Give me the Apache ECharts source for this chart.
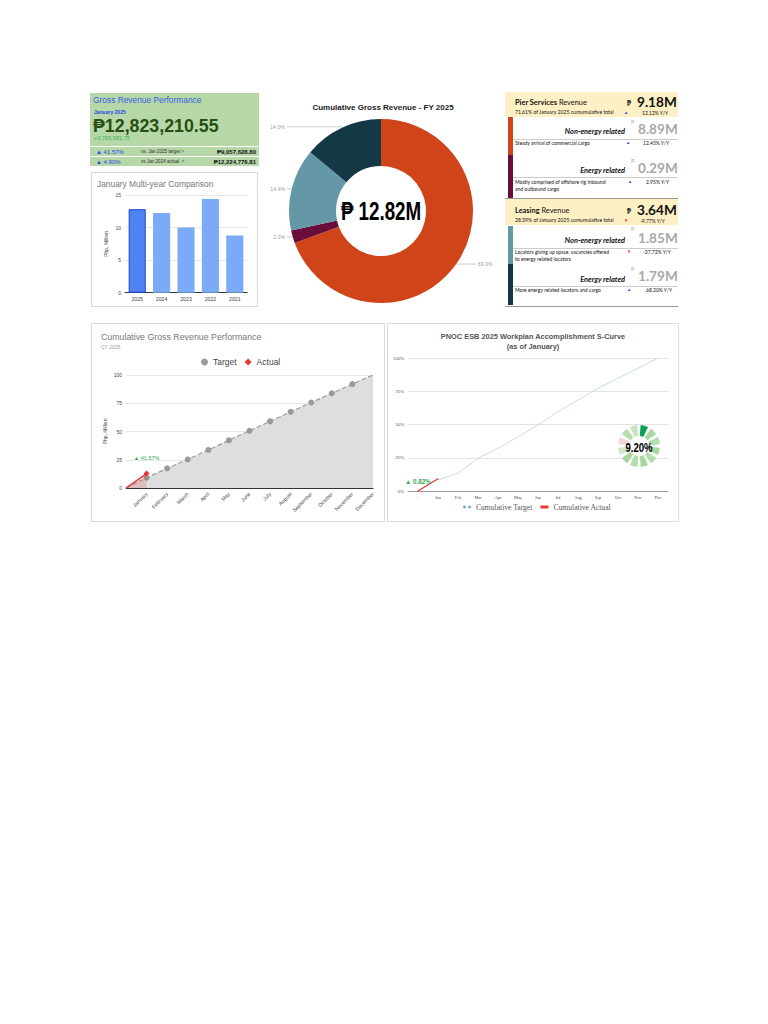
<!DOCTYPE html>
<html>
<head>
<meta charset="utf-8">
<script src="https://cdn.jsdelivr.net/npm/echarts@6/dist/echarts.min.js"></script>
<style>
html,body{margin:0;padding:0;background:#fff;width:768px;height:1024px;overflow:hidden;}
.b{position:absolute;}
.t{position:absolute;white-space:nowrap;line-height:1;transform:translateY(-50%);font-family:"Liberation Sans",Arial,sans-serif;color:#111;}
.r{transform:translate(-100%,-50%);}
.l{font-family:Lato,"Noto Sans",sans-serif;}
#c{position:absolute;left:0;top:0;width:768px;height:1024px;z-index:2;}
</style>
</head>
<body>
<!-- panel boxes -->
<div class="b" style="left:90px;top:93px;width:169px;height:53px;background:#b6d7a8"></div>
<div class="b" style="left:90px;top:147px;width:169px;height:9px;background:#b6d7a8"></div>
<div class="b" style="left:90px;top:157px;width:169px;height:9px;background:#b6d7a8"></div>
<div class="b" style="left:91px;top:172px;width:165px;height:133px;border:1px solid #d9d9d9"></div>
<div class="b" style="left:91px;top:323px;width:292px;height:197px;border:1px solid #dcdcdc"></div>
<div class="b" style="left:387px;top:323px;width:290px;height:197px;border:1px solid #dcdcdc"></div>

<!-- Gross revenue performance card -->
<div class="t" style="left:93px;top:100px;font-size:8.4px;color:#3a5ee0">Gross Revenue Performance</div>
<div class="t" style="left:94px;top:112px;font-size:5px;font-weight:bold;color:#2a45e6">January 2025</div>
<div class="t" style="left:93px;top:127px;font-size:17.8px;font-weight:bold;color:#274e13">₱12,823,210.55</div>
<div class="t" style="left:94px;top:139px;font-size:5.6px;color:#3fae55">+3,765,581.75</div>
<div class="t" style="left:96px;top:152px;font-size:6px;color:#2a45e6">▲ 41.57%</div>
<div class="t" style="left:141px;top:152px;font-size:4.6px;color:#333">vs. Jan 2025 target &gt;</div>
<div class="t r" style="left:256px;top:152px;font-size:6px;font-weight:bold;color:#111">₱9,057,628.80</div>
<div class="t" style="left:96px;top:161.5px;font-size:6px;color:#2a45e6">▲ 4.90%</div>
<div class="t" style="left:141px;top:161.5px;font-size:4.6px;color:#333">vs Jan 2024 actual &nbsp;&gt;</div>
<div class="t r" style="left:256px;top:161.5px;font-size:6px;font-weight:bold;color:#111">₱12,224,776.81</div>

<!-- Pier services card -->
<div class="b" style="left:505px;top:92px;width:173px;height:25px;background:#fdf0c4"></div>
<div class="t l" style="left:515px;top:103px;font-size:7.4px"><b>Pier Services</b> Revenue</div>
<div class="t l" style="left:627px;top:103px;font-size:7px;font-weight:bold">₱</div>
<div class="t l" style="left:637px;top:103px;font-size:13.6px;font-weight:bold">9.18M</div>
<div class="t l" style="left:515px;top:113px;font-size:5.1px">71.61% of January 2025 cumumulative total</div>
<div class="t" style="left:624px;top:113px;font-size:4.2px;color:#2b3cf0">▲</div>
<div class="t l" style="left:642px;top:113px;font-size:5px">12.12% Y/Y</div>
<div class="b" style="left:508px;top:117px;width:5px;height:38px;background:#cf4419"></div>
<div class="b" style="left:508px;top:155px;width:5px;height:43px;background:#6b0d3a"></div>
<div class="t l r" style="left:625px;top:132px;font-size:7.4px;font-weight:bold;font-style:italic">Non-energy related</div>
<div class="t l" style="left:631px;top:123px;font-size:5.5px;color:#aaa">P</div>
<div class="t l" style="left:638px;top:130px;font-size:13.6px;font-weight:bold;color:#a9a9a9">8.89M</div>
<div class="b" style="left:513px;top:139px;width:165px;height:1px;background:#ccc"></div>
<div class="t l" style="left:515px;top:143px;font-size:5px">Steady arrival of commercial cargo</div>
<div class="t" style="left:626px;top:143px;font-size:4.2px;color:#2b3cf0">▲</div>
<div class="t l" style="left:643px;top:143px;font-size:5px">12.45% Y/Y</div>
<div class="t l r" style="left:625px;top:171px;font-size:7.4px;font-weight:bold;font-style:italic">Energy related</div>
<div class="t l" style="left:631px;top:162px;font-size:5.5px;color:#aaa">P</div>
<div class="t l" style="left:638px;top:169px;font-size:13.6px;font-weight:bold;color:#a9a9a9">0.29M</div>
<div class="b" style="left:513px;top:177px;width:165px;height:1px;background:#ccc"></div>
<div class="t l" style="left:515px;top:182px;font-size:5px">Mostly comprised of offshore rig inbound</div>
<div class="t l" style="left:515px;top:189px;font-size:5px">and outbound cargo</div>
<div class="t" style="left:628px;top:182px;font-size:4.2px;color:#2b3cf0">▲</div>
<div class="t l" style="left:646px;top:182px;font-size:5px">2.95% Y/Y</div>
<div class="b" style="left:505px;top:198px;width:173px;height:1px;background:#999"></div>

<!-- Leasing card -->
<div class="b" style="left:505px;top:199px;width:173px;height:26px;background:#fdf0c4"></div>
<div class="t l" style="left:515px;top:211px;font-size:7.4px"><b>Leasing</b> Revenue</div>
<div class="t l" style="left:627px;top:211px;font-size:7px;font-weight:bold">₱</div>
<div class="t l" style="left:637px;top:211px;font-size:13.6px;font-weight:bold">3.64M</div>
<div class="t l" style="left:515px;top:221px;font-size:5.1px">28.39% of January 2025 cumumulative total</div>
<div class="t" style="left:624px;top:221px;font-size:4.2px;color:#e0201a">▼</div>
<div class="t l" style="left:640px;top:221px;font-size:5px">-9.77% Y/Y</div>
<div class="b" style="left:508px;top:226px;width:5px;height:38px;background:#6598a6"></div>
<div class="b" style="left:508px;top:264px;width:5px;height:41px;background:#153847"></div>
<div class="t l r" style="left:625px;top:241px;font-size:7.4px;font-weight:bold;font-style:italic">Non-energy related</div>
<div class="t l" style="left:631px;top:230px;font-size:5.5px;color:#aaa">P</div>
<div class="t l" style="left:638px;top:239px;font-size:13.6px;font-weight:bold;color:#a9a9a9">1.85M</div>
<div class="b" style="left:513px;top:248px;width:165px;height:1px;background:#ccc"></div>
<div class="t l" style="left:515px;top:252px;font-size:5px">Locators giving up space, vacancies offered</div>
<div class="t l" style="left:515px;top:259px;font-size:5px">to energy related locators</div>
<div class="t" style="left:627px;top:252px;font-size:4.2px;color:#e0201a">▼</div>
<div class="t l" style="left:643px;top:252px;font-size:5px">-37.73% Y/Y</div>
<div class="t l r" style="left:625px;top:280px;font-size:7.4px;font-weight:bold;font-style:italic">Energy related</div>
<div class="t l" style="left:631px;top:270px;font-size:5.5px;color:#aaa">P</div>
<div class="t l" style="left:638px;top:277px;font-size:13.6px;font-weight:bold;color:#a9a9a9">1.79M</div>
<div class="b" style="left:513px;top:286px;width:165px;height:1px;background:#ccc"></div>
<div class="t l" style="left:515px;top:290px;font-size:5px">More energy related locators and cargo</div>
<div class="t" style="left:627px;top:290px;font-size:4.2px;color:#2b3cf0">▲</div>
<div class="t l" style="left:646px;top:290px;font-size:5px">68.20% Y/Y</div>
<div class="b" style="left:505px;top:306px;width:173px;height:1px;background:#999"></div>

<div id="c"></div>
<script>
// ---- data ----
const years = ['2025', '2024', '2023', '2022', '2021'];
const yearValues = [12.82, 12.22, 10.0, 14.4, 8.8];

const revenueSegments = ['Pier Services - Non-energy', 'Pier Services - Energy', 'Leasing - Non-energy', 'Leasing - Energy'];
const revenueValues = [8.89, 0.29, 1.85, 1.79];
const revenueColors = ['#cf4419', '#6b0d3a', '#6598a6', '#153847'];

const months = ['', 'January', 'February', 'March', 'April', 'May', 'June', 'July', 'August', 'September', 'October', 'November', 'December'];
const targetCum = [0, 9.06, 17.4, 25.3, 33.7, 42.2, 50.6, 59.0, 67.4, 75.6, 83.8, 92.0, 100];
const actualCum = [0, 12.82];

const sMonths = ['-', 'Jan', 'Feb', 'Mar', 'Apr', 'May', 'Jun', 'Jul', 'Aug', 'Sep', 'Oct', 'Nov', 'Dec'];
const sTarget = [null, 8.38, 13.3, 24.6, 32.0, 40.8, 49.6, 59.6, 68.4, 77.2, 84.7, 92.2, 100];
const sActual = [0, 9.20];

const gaugeSegments = [1, 1, 1, 1, 1, 1, 1, 1, 1, 1, 1, 1];
const gaugeColors = ['#0f9d58', '#a8d8a0', '#b3ddab', '#a8d8a0', '#b3ddab', '#a8d8a0', '#b3ddab', '#a8d8a0', '#cfe8c9', '#f3d9d9', '#b3ddab', '#c6e5bf'];

// ---- chart ----
const chart = echarts.init(document.getElementById('c'), null, {renderer: 'svg', width: 768, height: 1024});

function txt(x, y, text, s, extra) {
  return Object.assign({type: 'text', x: x, y: y, silent: true, z: 100,
    style: Object.assign({text: text, fontFamily: 'Liberation Sans', fontSize: 8, fill: '#333', align: 'left', verticalAlign: 'middle'}, s)}, extra || {});
}

// label line tail lengths per slice (orange, maroon, teal, navy)
const tails = [18.5, 4.7, 3.6, 54.6];

const option = {
  animation: false,
  textStyle: {fontFamily: 'Liberation Sans'},
  graphic: [
    txt(97, 184, 'January Multi-year Comparison', {fontSize: 8.4, fill: '#777'}),
    txt(383, 107, 'Cumulative Gross Revenue - FY 2025', {fontSize: 8, fontWeight: 'bold', fill: '#222', align: 'center'}),
    txt(381, 212, '₱ 12.82M', {fontSize: 25, fontWeight: 'bold', fill: '#000', align: 'center'}, {scaleX: 0.75}),
    txt(101, 337, 'Cumulative Gross Revenue Performance', {fontSize: 8.8, fill: '#777'}),
    txt(101, 347, 'CY 2025', {fontSize: 5, fill: '#999'}),
    txt(533, 336, 'PNOC ESB 2025 Workplan Accomplishment S-Curve', {fontSize: 7.4, fontWeight: 'bold', fill: '#555', align: 'center'}),
    txt(533, 346, '(as of January)', {fontSize: 7.4, fontWeight: 'bold', fill: '#555', align: 'center'}),
    txt(639, 447, '9.20%', {fontSize: 13, fontWeight: 'bold', fill: '#000', align: 'center'}, {scaleX: 0.74})
  ],
  legend: [
    {left: 201, top: 357.5, padding: 0, itemWidth: 7, itemHeight: 7, itemGap: 8,
      textStyle: {fontSize: 8.5, color: '#444'},
      data: [{name: 'Target', icon: 'circle'}, {name: 'Actual', icon: 'diamond'}]},
    {left: 463, top: 503, padding: 0, itemWidth: 8, itemHeight: 3, itemGap: 8,
      textStyle: {fontSize: 7.6, color: '#555', fontFamily: 'Liberation Serif'},
      data: [{name: 'Cumulative Target', icon: 'path://M0,2a2,2 0 1,0 4,0a2,2 0 1,0 -4,0M7,2a2,2 0 1,0 4,0a2,2 0 1,0 -4,0'},
             {name: 'Cumulative Actual', icon: 'rect'}]}
  ],
  grid: [
    {left: 125, top: 195, width: 122, height: 97.7},
    {left: 126, top: 375, width: 247, height: 113},
    {left: 408, top: 358, width: 260, height: 133}
  ],
  xAxis: [
    {gridIndex: 0, type: 'category', data: years, axisTick: {show: false},
      axisLine: {lineStyle: {color: '#333', width: 1}}, axisLabel: {fontSize: 5.2, color: '#444', margin: 4}},
    {gridIndex: 1, type: 'category', data: months, boundaryGap: false, axisTick: {show: false},
      axisLine: {lineStyle: {color: '#333', width: 1}}, axisLabel: {fontSize: 5.2, color: '#444', rotate: 45, margin: 5, interval: 0}},
    {gridIndex: 2, type: 'category', data: sMonths, boundaryGap: true, axisTick: {show: false},
      axisLine: {lineStyle: {color: '#888', width: 0.8}}, axisLabel: {fontSize: 4.3, color: '#444', fontFamily: 'Liberation Serif', margin: 4, interval: 0}}
  ],
  yAxis: [
    {gridIndex: 0, type: 'value', min: 0, max: 15, interval: 5,
      name: 'Php, Million', nameLocation: 'middle', nameGap: 17, nameTextStyle: {fontSize: 5, color: '#444'},
      axisLabel: {fontSize: 5, color: '#444', margin: 4}, splitLine: {lineStyle: {color: '#e8e8e8'}}},
    {gridIndex: 1, type: 'value', min: 0, max: 100, interval: 25,
      name: 'Php, Million', nameLocation: 'middle', nameGap: 19, nameTextStyle: {fontSize: 5, color: '#444'},
      axisLabel: {fontSize: 5, color: '#444', margin: 4}, splitLine: {lineStyle: {color: '#e8e8e8'}}},
    {gridIndex: 2, type: 'value', min: 0, max: 100, interval: 25,
      axisLabel: {fontSize: 4.3, color: '#555', margin: 4, formatter: '{value}%'}, splitLine: {lineStyle: {color: '#e3e3e3'}}}
  ],
  series: [
    {type: 'bar', xAxisIndex: 0, yAxisIndex: 0, barWidth: '70%',
      data: yearValues.map((v, i) => i === 0
        ? {value: v, itemStyle: {color: '#4f83f1', borderColor: '#1c48d6', borderWidth: 1}}
        : {value: v, itemStyle: {color: '#7baaf7'}})},
    {type: 'line', name: 'Target', xAxisIndex: 1, yAxisIndex: 1, z: 2,
      symbol: 'circle', symbolSize: 6,
      itemStyle: {color: '#9a9a9a'},
      lineStyle: {color: '#9a9a9a', type: 'dashed', width: 1.2},
      areaStyle: {color: '#dedede', opacity: 1},
      data: targetCum.map((v, i) => (i === 0 || i === targetCum.length - 1) ? {value: v, symbol: 'none'} : v)},
    {type: 'line', name: 'Actual', xAxisIndex: 1, yAxisIndex: 1, z: 3,
      symbol: 'diamond', symbolSize: 6,
      itemStyle: {color: '#e53935'},
      lineStyle: {color: '#e53935', width: 1.5},
      areaStyle: {color: 'rgba(229,57,53,0.28)'},
      data: actualCum.map((v, i) => i === 0 ? {value: v, symbol: 'none'}
        : {value: v, label: {show: true, formatter: '▲ 41.57%', position: 'top', distance: 10, fontSize: 5.5, color: '#34a853'}})},
    {type: 'line', name: 'Cumulative Target', xAxisIndex: 2, yAxisIndex: 2, z: 2,
      symbol: 'none', itemStyle: {color: '#6fa8dc'},
      lineStyle: {color: '#c9d9ef', width: 1},
      data: sTarget},
    {type: 'line', name: 'Cumulative Actual', xAxisIndex: 2, yAxisIndex: 2, z: 3,
      symbol: 'circle', symbolSize: 1, itemStyle: {color: '#e53935'},
      lineStyle: {color: '#e53935', width: 1.3},
      data: sActual.map((v, i) => i === 0
        ? {value: v, label: {show: true, formatter: '▲ 0.82%', position: 'top', distance: 6, fontSize: 6.3, fontWeight: 'bold', color: '#34a853'}}
        : v)},
    {type: 'pie', center: [381, 211], radius: [45, 92],
      startAngle: 90, clockwise: true, silent: true, avoidLabelOverlap: false,
      label: {show: true, position: 'outside', distanceToLabelLine: 2, fontSize: 5.2, color: '#a0a0a0',
        formatter: p => p.percent.toFixed(1) + '%'},
      labelLine: {show: true, length: 1, length2: 5, lineStyle: {color: '#bdbdbd', width: 0.8}},
      data: revenueSegments.map((n, i) => ({name: n, value: revenueValues[i], itemStyle: {color: revenueColors[i]},
        labelLine: {length2: tails[i]}}))},
    {type: 'pie', center: [639, 446], radius: [10, 21], startAngle: 90, padAngle: 9, silent: true,
      label: {show: false}, labelLine: {show: false},
      data: gaugeSegments.map((v, i) => ({name: 'seg' + i, value: v, itemStyle: {color: gaugeColors[i]}}))}
  ]
};
chart.setOption(option);
</script>
</body>
</html>
